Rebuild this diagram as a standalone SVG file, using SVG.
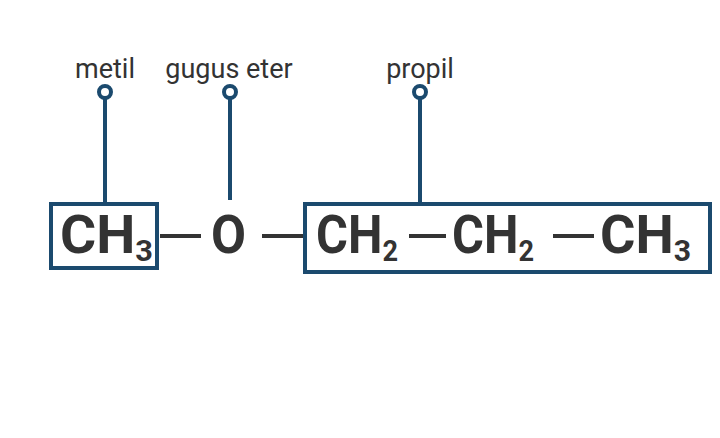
<svg xmlns="http://www.w3.org/2000/svg" width="720" height="438" viewBox="0 0 720 438">
<style>
.lbl{font-family:Roboto,"Liberation Sans",sans-serif;font-size:27px;fill:#333;text-anchor:middle}
.f{font-family:Roboto,"Liberation Sans",sans-serif;font-weight:bold;font-size:54px;fill:#333}
.s{font-size:30px}
.b{stroke:#1b4a6e;stroke-width:4;fill:none}
.bond{stroke:#333;stroke-width:4}
</style>
<rect width="720" height="438" fill="#fff"/>
<g id="metil">
<text class="lbl" x="105" y="78">metil</text>
<line class="b" x1="105" y1="98" x2="105" y2="203"/>
<circle cx="105" cy="92" r="6" fill="#fff" stroke="#1b4a6e" stroke-width="4"/>
<rect class="b" x="51" y="204" width="106" height="64"/>
<text class="f" x="60" y="253" textLength="93" lengthAdjust="spacingAndGlyphs">CH<tspan class="s" dy="8">3</tspan></text>
</g>
<g id="eter">
<text class="lbl" x="229" y="78">gugus eter</text>
<line class="b" x1="230" y1="98" x2="230" y2="200"/>
<circle cx="230" cy="92" r="6" fill="#fff" stroke="#1b4a6e" stroke-width="4"/>
<text class="f" x="211" y="253" textLength="35" lengthAdjust="spacingAndGlyphs">O</text>
</g>
<g id="propil">
<text class="lbl" x="420" y="78">propil</text>
<line class="b" x1="420" y1="98" x2="420" y2="203"/>
<circle cx="420" cy="92" r="6" fill="#fff" stroke="#1b4a6e" stroke-width="4"/>
<rect class="b" x="305" y="204" width="405" height="68"/>
<text class="f" x="316" y="253" textLength="82" lengthAdjust="spacingAndGlyphs">CH<tspan class="s" dy="8">2</tspan></text>
<text class="f" x="452" y="253" textLength="82" lengthAdjust="spacingAndGlyphs">CH<tspan class="s" dy="8">2</tspan></text>
<text class="f" x="600" y="253" textLength="91" lengthAdjust="spacingAndGlyphs">CH<tspan class="s" dy="8">3</tspan></text>
</g>
<g id="connectors">
<line class="bond" x1="160" y1="236" x2="201" y2="236"/>
<line class="bond" x1="262" y1="236" x2="303" y2="236"/>
<line class="bond" x1="409" y1="236" x2="446" y2="236"/>
<line class="bond" x1="553" y1="236" x2="594" y2="236"/>
</g>
</svg>
